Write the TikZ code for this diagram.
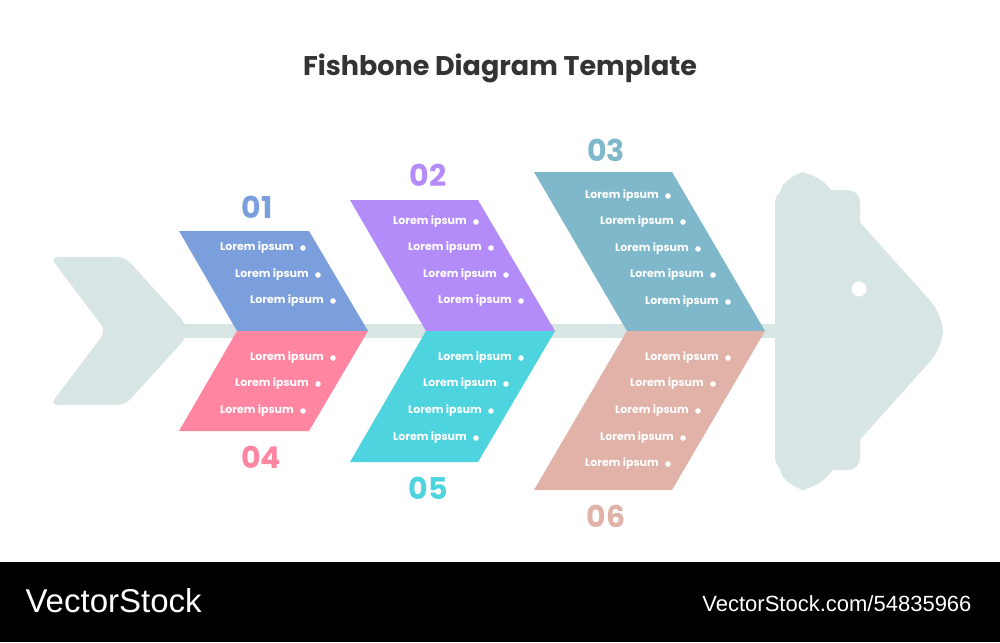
\documentclass[tikz,border=0pt]{standalone}
\usepackage{fontspec}
\setmainfont{Poppins}
\begin{document}
\begin{tikzpicture}[x=1pt,y=-1pt,
  lbl/.style={anchor=east,text=white,font=\fontsize{11}{11}\selectfont\bfseries,inner sep=0},
  num/.style={font=\fontsize{30}{30}\selectfont\bfseries},
  bone/.style={fill=boneC}]
\definecolor{boneC}{HTML}{D7E5E4}
\definecolor{cA}{HTML}{7B9FDC}\definecolor{cB}{HTML}{B38CFA}\definecolor{cC}{HTML}{7FB8CB}
\definecolor{cD}{HTML}{FF85A1}\definecolor{cE}{HTML}{4DD4DE}\definecolor{cF}{HTML}{E0B2A8}
\useasboundingbox (0,0) rectangle (1000,642);
\fill[white] (0,0) rectangle (1000,562);
\node[font=\fontsize{27}{27}\selectfont\bfseries,text=black!80] (title) at (500,68) {Fishbone Diagram Template};
% spine
\fill[bone] (180,324) rectangle (830,338);
% tail
\fill[bone,rounded corners=8] (50,257) -- (125,257) -- (186,324) -- (186,338) -- (125,405) -- (50,405) -- (106,331) -- cycle;
% head
\fill[bone,rounded corners=18] (775,200) -- (790,172) -- (815,172) -- (943,315) -- (943,347) -- (815,490) -- (790,490) -- (775,462) -- cycle;
\fill[bone,rounded corners=12] (775,190) -- (775,267) -- (822,324) -- (822,338) -- (775,393) -- (775,470) -- (860,470) -- (860,190) -- cycle;
\fill[white] (859,289) circle (7.5);
% boxes
\fill[cA] (179,231) -- (309,231) -- (368,331) -- (237,331) -- cycle;
\fill[cD] (237,331) -- (368,331) -- (309,431) -- (179,431) -- cycle;
\fill[cB] (350,200) -- (478,200) -- (555,331) -- (426,331) -- cycle;
\fill[cE] (426,331) -- (555,331) -- (478,462) -- (350,462) -- cycle;
\fill[cC] (534,172) -- (672,172) -- (765,331) -- (627,331) -- cycle;
\fill[cF] (627,331) -- (765,331) -- (672,490) -- (534,490) -- cycle;
% texts
\foreach \x/\y [count=\i] in {303/248,318/275,333/301,333/358,318/384,303/411,
  476/222,491/248,506/275,521/301,521/358,506/384,491/411,476/438,
  668/196,683/222,698/249,713/275,728/302,728/358,713/384,698/411,683/438,668/464}{
  \fill[white] (\x,\y) circle (2.8);
  \node[lbl] (t\i) at (\x-9,\y) {Lorem ipsum};
}
\node[num,text=cA] (n1) at (257,207) {01};
\node[num,text=cB] (n2) at (428,175) {02};
\node[num,text=cC] (n3) at (606,150) {03};
\node[num,text=cD] (n4) at (261,457) {04};
\node[num,text=cE] (n5) at (428,488) {05};
\node[num,text=cF] (n6) at (606,516) {06};
% footer
\fill[black] (0,562) rectangle (1000,642);
\node[anchor=west,text=white,font=\fontsize{33}{33}\selectfont\sffamily] (vs) at (22,601) {\setmainfont{Liberation Sans}VectorStock};
\node[anchor=east,text=white,font=\fontsize{22}{22}\selectfont] (url) at (975,604) {\fontspec{Liberation Sans}VectorStock.com/54835966};
\end{tikzpicture}
\end{document}
